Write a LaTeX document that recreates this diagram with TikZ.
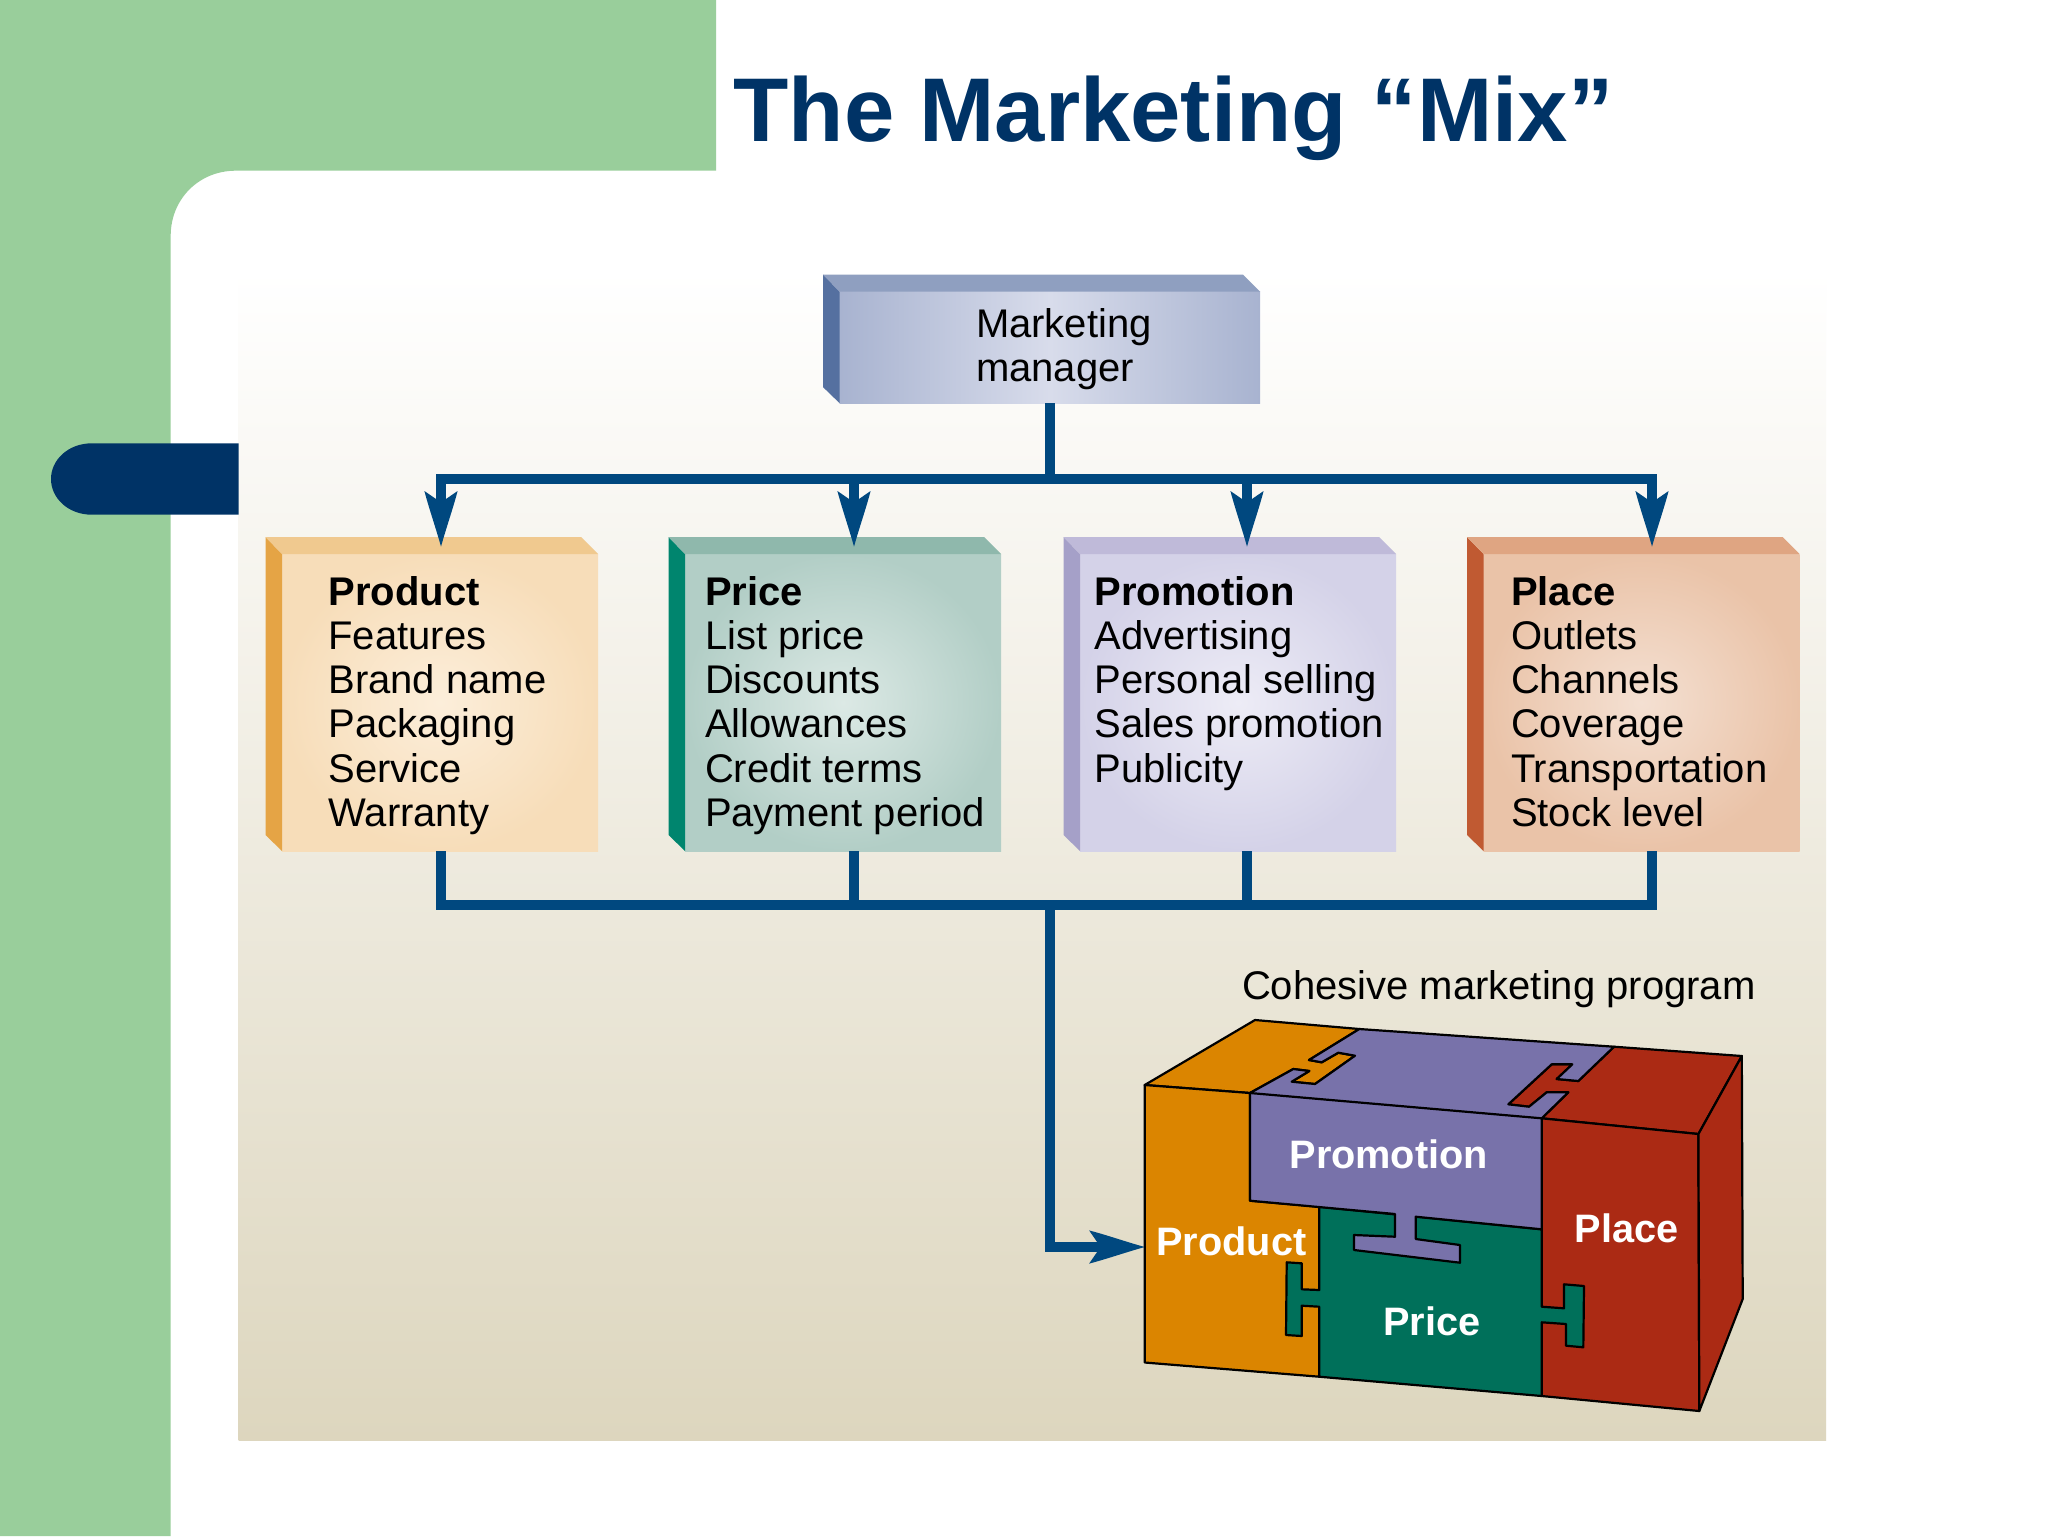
\documentclass[tikz,border=0pt]{standalone}
\usepackage{fontspec}
\setmainfont{Liberation Sans}
\usetikzlibrary{arrows.meta,calc}
\definecolor{leaf}{HTML}{99CE9B}
\definecolor{navy}{HTML}{003366}
\definecolor{wire}{HTML}{00487F}
\definecolor{cOrange}{HTML}{DB8500}
\definecolor{cPurple}{HTML}{7872AA}
\definecolor{cGreen}{HTML}{00705A}
\definecolor{cRed}{HTML}{AB2A14}
\definecolor{bgMid}{HTML}{EDE9DA}
\definecolor{bgLow}{HTML}{DDD6BE}
\definecolor{mgSide}{HTML}{5570A0}
\definecolor{mgTop}{HTML}{8F9FC0}
\definecolor{mgIn}{HTML}{D8DCEB}
\definecolor{mgOut}{HTML}{A8B3D0}
\definecolor{prSide}{HTML}{E5A445}
\definecolor{prTop}{HTML}{F0C98F}
\definecolor{prIn}{HTML}{FCEEDA}
\definecolor{prOut}{HTML}{F7DDB9}
\definecolor{piSide}{HTML}{00856E}
\definecolor{piTop}{HTML}{8FB8AC}
\definecolor{piIn}{HTML}{DCE9E5}
\definecolor{piOut}{HTML}{B2CEC6}
\definecolor{poSide}{HTML}{A5A0C8}
\definecolor{poTop}{HTML}{BFBAD9}
\definecolor{poIn}{HTML}{EDECF6}
\definecolor{poOut}{HTML}{D4D2E8}
\definecolor{plSide}{HTML}{C05A32}
\definecolor{plTop}{HTML}{DFA582}
\definecolor{plIn}{HTML}{F4E0D2}
\definecolor{plOut}{HTML}{EAC3A8}
\pgfdeclarearrow{
  name = Curvy,
  setup code = {
    \pgfarrowssettipend{0pt}
    \pgfarrowssetlineend{-20pt}
    \pgfarrowssetvisualbackend{-27.8pt}
    \pgfarrowssetbackend{-27.8pt}
  },
  drawing code = {
    \pgfpathmoveto{\pgfqpoint{0pt}{0pt}}
    \pgfpathcurveto{\pgfqpoint{-10pt}{2.8pt}}{\pgfqpoint{-19pt}{6pt}}{\pgfqpoint{-27.8pt}{8.3pt}}
    \pgfpathlineto{\pgfqpoint{-23.8pt}{2.5pt}}
    \pgfpathlineto{\pgfqpoint{-23.8pt}{-2.5pt}}
    \pgfpathlineto{\pgfqpoint{-27.8pt}{-8.3pt}}
    \pgfpathcurveto{\pgfqpoint{-19pt}{-6pt}}{\pgfqpoint{-10pt}{-2.8pt}}{\pgfqpoint{0pt}{0pt}}
    \pgfusepathqfill
  }
}
\newcommand{\bevelbox}[3]{%
  \fill[#2] (#1.north west) -- ++(-16.5,-17) -- ($(#1.south west)+(-16.5,-16)$) -- (#1.south west) -- cycle;
  \fill[#3] (#1.north west) -- ++(-16.5,-17) -- ($(#1.north east)+(-17,-17)$) -- (#1.north east) -- cycle;
}
\tikzset{
  face/.style={anchor=north west,inner sep=0pt,outer sep=0pt,minimum width=158pt,minimum height=148.5pt},
  lst/.style={anchor=north west,inner sep=0pt,outer sep=0pt,align=left,font=\fontsize{20}{22.15}\selectfont,text=black},
  lone/.style={anchor=base west,inner sep=0pt,outer sep=0pt,font=\fontsize{20}{22.15}\selectfont},
  cubelabel/.style={lone,font=\fontsize{19.85}{22.15}\selectfont\bfseries,text=white},
  pipe/.style={draw=wire,line width=5pt},
  pipecap/.style={pipe,line cap=rect},
  cubeface/.style={draw=black,line width=1.1pt,line join=round}
}
\begin{document}
\begin{tikzpicture}[x=0.5pt,y=-0.5pt]
\useasboundingbox (0,0) rectangle (2048,1536);
\fill[white] (0,0) rectangle (2048,1536);
% slide furniture
\fill[leaf] (0,0) -- (716,0) -- (716,170.7) -- (235.7,170.7) .. controls (199,170.7) and (170.7,199) .. (170.7,235.7) -- (170.7,1536) -- (0,1536) -- cycle;
\path[shade,top color=white,middle color=bgMid,bottom color=bgLow] (238.7,270) rectangle (1826,1440);
\fill[navy] (238.7,443.3) -- (92,443.3) .. controls (68,443.3) and (51,460) .. (51,479) .. controls (51,498) and (68,514.7) .. (92,514.7) -- (238.7,514.7) -- cycle;
\node[anchor=base west,inner sep=0pt,text=navy,font=\fontsize{45.25}{50}\selectfont\bfseries] (title) at (733,141) {The Marketing “Mix”};
% boxes
\node[face,minimum width=210.15pt,minimum height=55.8pt,left color=mgOut,right color=mgOut,middle color=mgIn] (manager) at (839.7,291.7) {};
\node[face,inner color=prIn,outer color=prOut] (product) at (282,554) {};
\node[face,inner color=piIn,outer color=piOut] (price) at (685,554) {};
\node[face,inner color=poIn,outer color=poOut] (promotion) at (1080,554) {};
\node[face,inner color=plIn,outer color=plOut] (place) at (1483.5,554) {};
\bevelbox{manager}{mgSide}{mgTop}
\bevelbox{product}{prSide}{prTop}
\bevelbox{price}{piSide}{piTop}
\bevelbox{promotion}{poSide}{poTop}
\bevelbox{place}{plSide}{plTop}
% texts
\node[lst] (managerText) at (976,306) {\strut Marketing\\manager};
\node[lst] (productText) at (328.5,574) {\strut\textbf{Product}\\Features\\Brand name\\Packaging\\Service\\Warranty};
\node[lst] (priceText) at (705,574) {\strut\textbf{Price}\\List price\\Discounts\\Allowances\\Credit terms\\Payment period};
\node[lst] (promotionText) at (1094.5,574) {\strut\textbf{Promotion}\\Advertising\\Personal selling\\Sales promotion\\Publicity};
\node[lst] (placeText) at (1511,574) {\strut\textbf{Place}\\Outlets\\Channels\\Coverage\\Transportation\\Stock level};
\node[lone] (cohesive) at (1242,999) {Cohesive marketing program};
% connector points
\coordinate (busTop) at (1050,478.6);
\coordinate (busLow) at (1050,905);
\coordinate (inProduct) at (441,546.6);
\coordinate (inPrice) at (854,546.6);
\coordinate (inPromotion) at (1247,546.6);
\coordinate (inPlace) at (1652,546.6);
\coordinate (cubeIn) at (1144.7,1247);
% connectors
\draw[pipe] (manager.south -| busTop) -- (busTop);
\draw[pipecap] (busTop -| inProduct) -- (busTop -| inPlace);
\foreach \t in {inProduct,inPrice,inPromotion,inPlace}{
  \draw[pipe,-Curvy] (busTop -| \t) -- (\t);
}
\draw[pipe] (product.south -| inProduct) -- (busLow -| inProduct);
\draw[pipe] (price.south -| inPrice) -- (busLow -| inPrice);
\draw[pipe] (promotion.south -| inPromotion) -- (busLow -| inPromotion);
\draw[pipe] (place.south -| inPlace) -- (busLow -| inPlace);
\draw[pipecap] (busLow -| inProduct) -- (busLow -| inPlace);
\draw[pipe,-Curvy] (busLow) |- (cubeIn);
% cube
\coordinate (A) at (1144.7,1085);
\coordinate (B) at (1255,1020);
\coordinate (C) at (1741.8,1056);
\coordinate (D) at (1698.4,1134);
\coordinate (E) at (1699.3,1411);
\coordinate (F) at (1742.7,1299);
\coordinate (G) at (1144.7,1362.5);
\coordinate (H) at (1250,1093);
\coordinate (I) at (1359.3,1029);
\coordinate (J) at (1614,1046.7);
\coordinate (K) at (1541.7,1118.3);
\coordinate (L) at (1250,1200.7);
\coordinate (M) at (1541.7,1229.3);
\coordinate (N) at (1319.3,1206.7);
\coordinate (O) at (1319.3,1376.7);
\coordinate (P) at (1541.7,1396);
% orange top and front
\filldraw[cubeface,fill=cOrange] (B) -- (I) -- (1309,1060) -- (1321.7,1062.3) -- (1338.3,1052.7) -- (1355,1055.7) -- (1315,1084) -- (1291.7,1081.7) -- (1309.3,1071) -- (1293.3,1069) -- (H) -- (A) -- cycle;
\filldraw[cubeface,fill=cOrange] (A) -- (H) -- (L) -- (N) -- (O) -- (G) -- cycle;
% red top, front and side
\filldraw[cubeface,fill=cRed] (J) -- (C) -- (D) -- (K) -- (1568.3,1092.3) -- (1546.7,1092.3) -- (1529,1106.7) -- (1508.3,1104.3) -- (1551.7,1064.3) -- (1572.3,1064.3) -- (1556.7,1079) -- (1578.3,1081) -- cycle;
\filldraw[cubeface,fill=cRed] (K) -- (D) -- (E) -- (P) -- cycle;
\filldraw[cubeface,fill=cRed] (C) -- (F) -- (E) -- (D) -- cycle;
% green with its tabs
\filldraw[cubeface,fill=cGreen] (N) -- (M) -- (1541.7,1306.7) -- (1564,1308.3) -- (1564,1284.3) -- (1584,1286) -- (1583.3,1347.3) -- (1566,1345.7) -- (1566,1324) -- (1541.7,1322.3) -- (P) -- (O) -- (1319.3,1306.7) -- (1301.7,1305.7) -- (1301.7,1336) -- (1286,1335) -- (1286.7,1262.3) -- (1301.7,1263.3) -- (1301.7,1289.3) -- (1319.3,1290) -- cycle;
% purple with its tabs
\filldraw[cubeface,fill=cPurple] (I) -- (J) -- (1578.3,1081) -- (1556.7,1079) -- (1572.3,1064.3) -- (1551.7,1064.3) -- (1508.3,1104.3) -- (1529,1106.7) -- (1546.7,1092.3) -- (1568.3,1092.3) -- (K) -- (M) -- (1415.7,1216.7) -- (1415.7,1239) -- (1460,1245) -- (1460,1262.7) -- (1354,1250) -- (1354,1235) -- (1395,1236.7) -- (1395,1214) -- (L) -- (H) -- (1293.3,1069) -- (1309.3,1071) -- (1291.7,1081.7) -- (1315,1084) -- (1355,1055.7) -- (1338.3,1052.7) -- (1321.7,1062.3) -- (1309,1060) -- cycle;
\draw[cubeface] (H) -- (K);
\node[cubelabel] (lblPromotion) at (1289.5,1168.8) {Promotion};
\node[cubelabel] (lblProduct) at (1156.4,1255.4) {Product};
\node[cubelabel] (lblPlace) at (1574.8,1242.6) {Place};
\node[cubelabel] (lblPrice) at (1383.3,1335.7) {Price};
\end{tikzpicture}
\end{document}
